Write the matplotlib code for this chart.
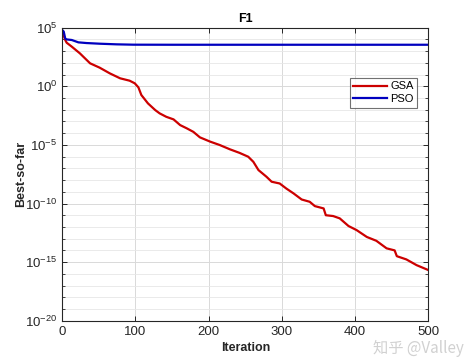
import matplotlib
matplotlib.use("Agg")
import matplotlib.pyplot as plt
from matplotlib.ticker import FixedLocator, LogFormatterSciNotation, NullFormatter

# ---- data ----
gsa_iter = [0, 4, 6, 13, 24, 38, 51, 65, 79, 92, 99, 104, 108, 117, 127, 133, 142, 152,
            161, 170, 179, 188, 202, 215, 229, 242, 254, 261, 268, 279, 286, 297, 306,
            316, 327, 338, 345, 357, 360, 370, 379, 391, 402, 416, 429, 443, 454, 457,
            470, 484, 500]
gsa_best = [4.6e4, 8.9e3, 5.2e3, 2.4e3, 6.5e2, 91, 39, 12.6, 4.8, 3.0, 1.8, 0.81, 0.18,
            0.035, 9.3e-3, 4.9e-3, 2.5e-3, 1.5e-3, 4.9e-4, 2.6e-4, 1.3e-4, 4.4e-5, 1.9e-5,
            9.8e-6, 4.2e-6, 2.1e-6, 9.8e-7, 3.6e-7, 7.1e-8, 1.9e-8, 7.2e-9, 5.1e-9, 1.9e-9,
            7.2e-10, 2.2e-10, 1.4e-10, 6.0e-11, 3.8e-11, 1.0e-11, 8.5e-12, 5.4e-12, 1.2e-12,
            5.4e-13, 1.4e-13, 6.6e-14, 1.5e-14, 1.0e-14, 3.2e-15, 1.7e-15, 5.5e-16, 2.1e-16]

pso_iter = [0, 2, 4, 6, 13, 22, 33, 51, 74, 97, 150, 500]
pso_best = [6.3e4, 4.6e4, 1.2e4, 1.0e4, 8.9e3, 5.6e3, 4.9e3, 4.3e3, 3.8e3, 3.55e3, 3.5e3, 3.5e3]

series_names = ["GSA", "PSO"]
title_text = "F1"
x_label = "Iteration"
y_label = "Best-so-far"
x_ticks = [0, 100, 200, 300, 400, 500]
y_major = [1e-20, 1e-15, 1e-10, 1e-5, 1e0, 1e5]
y_minor = [10.0 ** k for k in range(-20, 6)]
watermark = "知乎 @Valley"

# ---- style ----
plt.rcParams['font.family'] = ['Liberation Sans', 'Noto Sans CJK SC', 'DejaVu Sans']
plt.rcParams['mathtext.fontset'] = 'custom'
plt.rcParams['mathtext.rm'] = 'Liberation Sans'
plt.rcParams['mathtext.default'] = 'regular'
axis_col = (0.15, 0.15, 0.15)

fig = plt.figure(figsize=(4.74, 3.61), dpi=100)
ax = fig.add_axes([0.1314, 0.1116, 0.7722, 0.8117])

ax.plot(gsa_iter, gsa_best, color=(0.8, 0.0, 0.0), lw=1.6, label=series_names[0])
ax.plot(pso_iter, pso_best, color=(0.0, 0.0, 0.75), lw=1.6, label=series_names[1])

ax.set_yscale('log')
ax.set_xlim(0, 500)
ax.set_ylim(1e-20, 1e5)
ax.xaxis.set_major_locator(FixedLocator(x_ticks))
ax.yaxis.set_major_locator(FixedLocator(y_major))
ax.yaxis.set_major_formatter(LogFormatterSciNotation())
ax.yaxis.set_minor_locator(FixedLocator(y_minor))
ax.yaxis.set_minor_formatter(NullFormatter())

ax.grid(True, which='major', color=(0.85, 0.85, 0.85), lw=0.7)
ax.grid(True, which='minor', axis='y', color=(0.9, 0.9, 0.9), lw=0.6)
ax.set_axisbelow(True)

ax.tick_params(which='both', direction='in', top=True, right=True, colors=axis_col,
               labelsize=9.5, labelcolor=axis_col)
ax.tick_params(which='major', length=3.5, width=0.7)
ax.tick_params(which='minor', length=2, width=0.6)
for s in ax.spines.values():
    s.set_color(axis_col)
    s.set_linewidth(0.8)

ax.set_title(title_text, fontsize=9, fontweight='bold', color='black', pad=4)
ax.set_xlabel(x_label, fontsize=9, fontweight='bold', color=axis_col, labelpad=3)
ax.set_ylabel(y_label, fontsize=9, fontweight='bold', color=axis_col)
ax.yaxis.set_label_coords(-0.095, 0.5)

leg = ax.legend(loc='upper right', bbox_to_anchor=(0.97, 0.83), fontsize=8,
                frameon=True, fancybox=False, edgecolor=(0.3, 0.3, 0.3),
                handlelength=3.0, handletextpad=0.3, borderpad=0.35,
                labelspacing=0.25, borderaxespad=0.0)
leg.get_frame().set_linewidth(0.8)

fig.text(0.978, 0.035, watermark, ha='right', va='center', fontsize=11,
         color=(0.82, 0.82, 0.82), family=['Noto Sans CJK SC', 'DejaVu Sans'])

fig.savefig("out.png", dpi=100, facecolor='white')
